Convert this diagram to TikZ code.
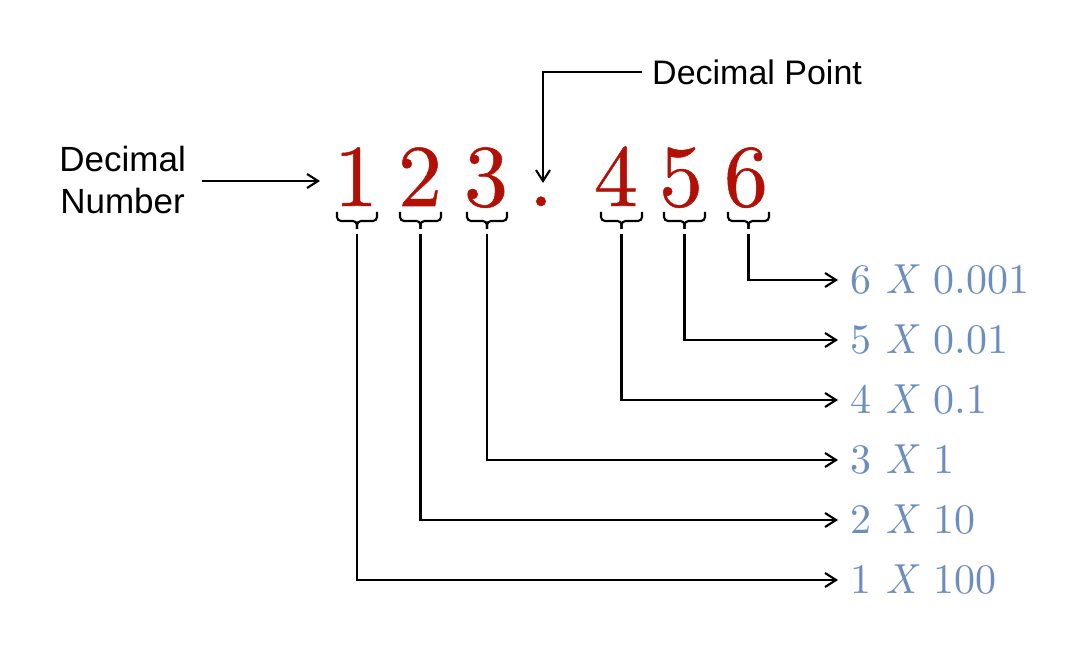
\documentclass[tikz,border=0pt]{standalone}
\usepackage{fontspec}
\setmainfont{lmroman10-regular.otf}[ItalicFont=lmroman10-italic.otf]
\newfontfamily\digitfont{lmroman10-regular.otf}[FakeBold=0.6]
\newfontfamily\labelsans{Liberation Sans}
\usetikzlibrary{arrows.meta}
\definecolor{digitred}{RGB}{178,16,4}
\definecolor{termblue}{RGB}{108,142,191}
\tikzset{
  digit/.style={anchor=base,inner sep=0pt,text=digitred,font=\digitfont\fontsize{88}{88}\selectfont},
  term/.style={anchor=west,inner xsep=12pt,inner ysep=0pt,text=termblue,font=\fontsize{42}{42}\selectfont},
  sanslabel/.style={inner sep=0pt,align=center},
  conn/.style={line width=2.1pt,-{Straight Barb[length=11pt,width=14pt,line width=2.1pt]}},
  bracedeco/.style={line width=2.1pt,rounded corners=4pt}
}
% #1 left x, #2 middle x, #3 right x
\newcommand\underbr[3]{%
  \draw[bracedeco] (#1,212) -- (#1,221) -- (#2,221) -- (#2,229);
  \draw[bracedeco] (#3,212) -- (#3,221) -- (#2,221) -- (#2,229);}
\begin{document}
\begin{tikzpicture}[x=1pt,y=-1pt]
\useasboundingbox[fill=white] (0,0) rectangle (1092,652);
% digits
\node[digit] (d1) at (356,206) {1};
\node[digit] (d2) at (420,206) {2};
\node[digit] (d3) at (486,206) {3};
\node[digit] (dot) at (541,206) {.};
\node[digit] (d4) at (616,206) {4};
\node[digit] (d5) at (681,206) {5};
\node[digit] (d6) at (746,206) {6};
% braces
\underbr{337}{357}{377}
\underbr{400}{420.5}{441}
\underbr{467}{487}{507}
\underbr{601}{621.5}{642}
\underbr{664}{684.5}{705}
\underbr{728}{748.5}{769}
\coordinate (t1) at (357,234);
\coordinate (t2) at (420.5,234);
\coordinate (t3) at (487,234);
\coordinate (t4) at (621.5,234);
\coordinate (t5) at (684.5,234);
\coordinate (t6) at (748.5,234);
% terms
\node[term] (l6) at (838,280) {6 \textit{X} 0.001};
\node[term] (l5) at (838,340) {5 \textit{X} 0.01};
\node[term] (l4) at (838,400) {4 \textit{X} 0.1};
\node[term] (l3) at (838,460) {3 \textit{X} 1};
\node[term] (l2) at (838,520) {2 \textit{X} 10};
\node[term] (l1) at (838,580) {1 \textit{X} 100};
\draw[conn] (t1) |- (l1.west);
\draw[conn] (t2) |- (l2.west);
\draw[conn] (t3) |- (l3.west);
\draw[conn] (t4) |- (l4.west);
\draw[conn] (t5) |- (l5.west);
\draw[conn] (t6) |- (l6.west);
% labels
\node[sanslabel,anchor=east,font=\labelsans\fontsize{35}{42}\selectfont] (dn) at (186,180) {Decimal\\Number};
\coordinate (dnstart) at (202,181);
\coordinate (dnend) at (320,181);
\draw[conn] (dnstart) -- (dnend);
\node[sanslabel,anchor=west,font=\labelsans\fontsize{34}{42}\selectfont] (dp) at (652,72) {Decimal Point};
\coordinate (dptip) at (543,183);
\draw[conn] ([xshift=-10pt]dp.west) -| (dptip);
\end{tikzpicture}
\end{document}
